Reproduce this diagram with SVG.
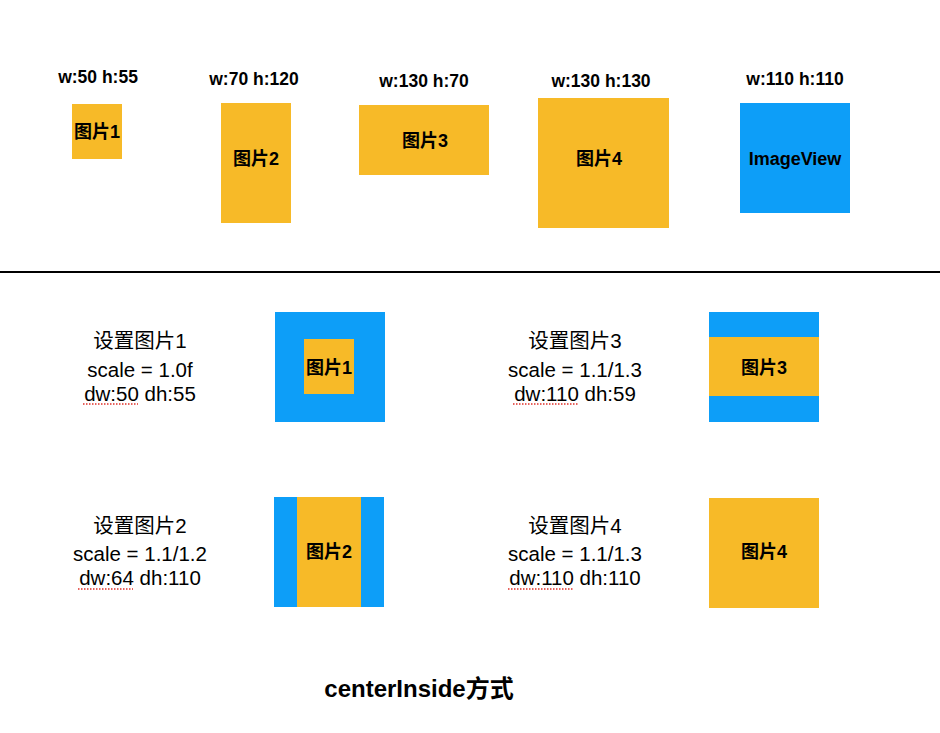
<svg xmlns="http://www.w3.org/2000/svg" width="940" height="733" viewBox="0 0 940 733">
<style>
.img{fill:#F7BA28}
.iv{fill:#0D9EF8}
.lb{font-family:"Liberation Sans","Noto Sans CJK SC",sans-serif;font-weight:bold;font-size:17.5px;fill:#000;text-anchor:middle}
.bl{font-family:"Liberation Sans","Noto Sans CJK SC",sans-serif;font-weight:bold;font-size:18px;fill:#000;text-anchor:middle}
.tx{font-family:"Liberation Sans","Noto Sans CJK SC",sans-serif;font-size:20.5px;fill:#000;text-anchor:middle}
.ul{stroke:#E0302A;stroke-width:1.5;stroke-dasharray:1.5 1.5;fill:none}
</style>
<rect width="940" height="733" fill="#fff"/>
<g id="top-img1">
<text class="lb" x="98" y="83">w:50 h:55</text>
<rect class="img" x="72" y="104" width="50" height="55"/>
<text class="bl" x="97" y="138">图片1</text>
</g>
<g id="top-img2">
<text class="lb" x="254" y="85">w:70 h:120</text>
<rect class="img" x="221" y="103" width="70" height="120"/>
<text class="bl" x="256" y="165">图片2</text>
</g>
<g id="top-img3">
<text class="lb" x="424" y="87">w:130 h:70</text>
<rect class="img" x="359" y="105" width="130" height="70"/>
<text class="bl" x="425" y="147">图片3</text>
</g>
<g id="top-img4">
<text class="lb" x="601" y="87">w:130 h:130</text>
<rect class="img" x="538" y="98" width="131" height="130"/>
<text class="bl" x="599" y="165">图片4</text>
</g>
<g id="top-imageview">
<text class="lb" x="795" y="85">w:110 h:110</text>
<rect class="iv" x="740" y="103" width="110" height="110"/>
<text class="bl" x="795" y="165">ImageView</text>
</g>
<line x1="0" y1="272" x2="940" y2="272" stroke="#000" stroke-width="2"/>
<g id="case1">
<text class="tx" x="140" y="348">设置图片1</text>
<text class="tx" x="140" y="377">scale = 1.0f</text>
<text class="tx" x="140" y="401">dw:50 dh:55</text>
<line class="ul" x1="83" y1="404" x2="138" y2="404"/>
<rect class="iv" x="275" y="312" width="110" height="110"/>
<rect class="img" x="304" y="339" width="50" height="55"/>
<text class="bl" x="329" y="374">图片1</text>
</g>
<g id="case3">
<text class="tx" x="575" y="348">设置图片3</text>
<text class="tx" x="575" y="377">scale = 1.1/1.3</text>
<text class="tx" x="575" y="401">dw:110 dh:59</text>
<line class="ul" x1="513" y1="404" x2="579" y2="404"/>
<rect class="iv" x="709" y="312" width="110" height="110"/>
<rect class="img" x="709" y="337" width="110" height="59"/>
<text class="bl" x="764" y="374">图片3</text>
</g>
<g id="case2">
<text class="tx" x="140" y="533">设置图片2</text>
<text class="tx" x="140" y="561">scale = 1.1/1.2</text>
<text class="tx" x="140" y="585">dw:64 dh:110</text>
<line class="ul" x1="78" y1="589" x2="133" y2="589"/>
<rect class="iv" x="274" y="497" width="110" height="110"/>
<rect class="img" x="297" y="497" width="64" height="110"/>
<text class="bl" x="329" y="558">图片2</text>
</g>
<g id="case4">
<text class="tx" x="575" y="533">设置图片4</text>
<text class="tx" x="575" y="561">scale = 1.1/1.3</text>
<text class="tx" x="575" y="585">dw:110 dh:110</text>
<line class="ul" x1="508" y1="589" x2="573" y2="589"/>
<rect class="img" x="709" y="498" width="110" height="110"/>
<text class="bl" x="764" y="558">图片4</text>
</g>
<text x="419" y="697" font-family="'Liberation Sans','Noto Sans CJK SC',sans-serif" font-weight="bold" font-size="24" text-anchor="middle" fill="#000">centerInside方式</text>
</svg>
